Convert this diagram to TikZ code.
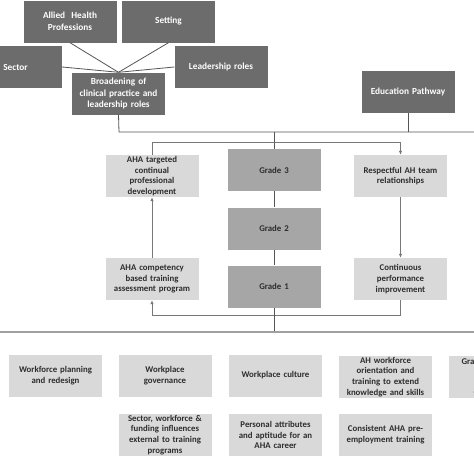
\documentclass[tikz,border=0pt]{standalone}
\usepackage{fontspec}
\setmainfont{Carlito}
\usetikzlibrary{arrows.meta}
\definecolor{cfTop}{RGB}{108,108,108}
\definecolor{cfGrade}{RGB}{166,166,166}
\definecolor{cfFactor}{RGB}{217,217,217}
\definecolor{cfLine}{RGB}{85,85,85}
\definecolor{cfLoop}{RGB}{120,120,120}
\definecolor{cfBase}{RGB}{160,160,160}
\definecolor{cfText}{RGB}{45,45,45}

\begin{document}
\begin{tikzpicture}[
  x=1pt, y=-1pt,
  font=\bfseries\fontsize{8.8}{10.7}\selectfont,
  n/.style={align=center, inner sep=1pt, minimum width=93pt, minimum height=42pt, text width=90pt},
  d/.style={n, fill=cfTop, text=white, font=\bfseries\fontsize{9.3}{11.7}\selectfont},
  g/.style={n, fill=cfGrade, text=cfText},
  f/.style={n, fill=cfFactor, text=cfText},
  l/.style={draw=cfLine, line width=0.8pt},
  a/.style={draw=cfLoop, line width=0.8pt, -{Latex[length=4pt,width=3.5pt]}}
]
\useasboundingbox (0,0) rectangle (474,474);
\path[clip] (0,0) rectangle (474,474);
\fill[white] (0,0) rectangle (474,474);
% influences on the pathway
\node[d] (ahp) at (70,21.5) {Allied\ \ Health\\Professions};
\node[d] (set) at (168.5,21.5) {Setting};
\node[d] (sec) at (15.5,67) {Sector};
\node[d] (lead) at (221,67) {Leadership roles};
\node[d] (broad) at (118.5,93.5) {Broadening of\\clinical practice and\\leadership roles};
\node[d] (edu) at (408,91.5) {Education Pathway};
% grades
\node[g] (g3) at (274,170) {Grade 3};
\node[g] (g2) at (274,228.5) {Grade 2};
\node[g] (g1) at (274,286.5) {Grade 1};
\node[f] (targ) at (152,176) {AHA targeted\\continual\\professional\\development};
\node[f] (comp) at (152,279) {AHA competency\\based training\\assessment program};
\node[f] (resp) at (400.5,176) {Respectful AH team\\relationships};
\node[f] (cont) at (400.5,279) {Continuous\\performance\\improvement};
% factors
\node[f] (wp) at (55.5,375.5) {Workforce planning\\and redesign};
\node[f] (wg) at (165,375.5) {Workplace\\governance};
\node[f] (wc) at (275.5,375.5) {Workplace culture};
\node[f] (ah) at (385.5,377) {AH workforce\\orientation and\\training to extend\\knowledge and skills};
\node[f] (gb) at (495.5,377) {Grade-appropriate\\in-service\\training\\frameworks};
\node[f] (sw) at (165,435) {Sector, workforce \&\\funding influences\\external to training\\programs};
\node[f] (pa) at (275.5,435) {Personal attributes\\and aptitude for an\\AHA career};
\node[f] (ca) at (385.5,435) {Consistent AHA pre-\\employment training};
\coordinate (bus) at (119,132);
\coordinate (busR) at (474,132);
\coordinate (split) at (274,142);
\coordinate (base) at (274,332);
\draw[l] (ahp.south) -- (broad.north);
\draw[l] (set.south) -- (broad.north);
\draw[l] (sec.east) -- (broad.north);
\draw[l] (lead.west) -- (broad.north);
\draw[l] (broad.south) -- (bus) -- (busR);
\draw[l] (edu.south) -- (edu.south |- bus);
\draw[l] (g3.north |- bus) -- (g3.north);
\draw[l] (g3) -- (g2);
\draw[l] (g2) -- (g1);
\draw[draw=cfLoop, line width=0.8pt] (split) -| (targ.north);
\draw[a] (split) -| (resp.north);
\draw[a] (comp) -- (targ);
\draw[a] (resp) -- (cont);
\draw[a] (cont.south) |- (152,315) -- (comp.south);
\draw[l] (g1.south) -- (base);
\draw[draw=cfBase, line width=1.4pt] (0,332) -- (base) -- (474,332);
\end{tikzpicture}
\end{document}
